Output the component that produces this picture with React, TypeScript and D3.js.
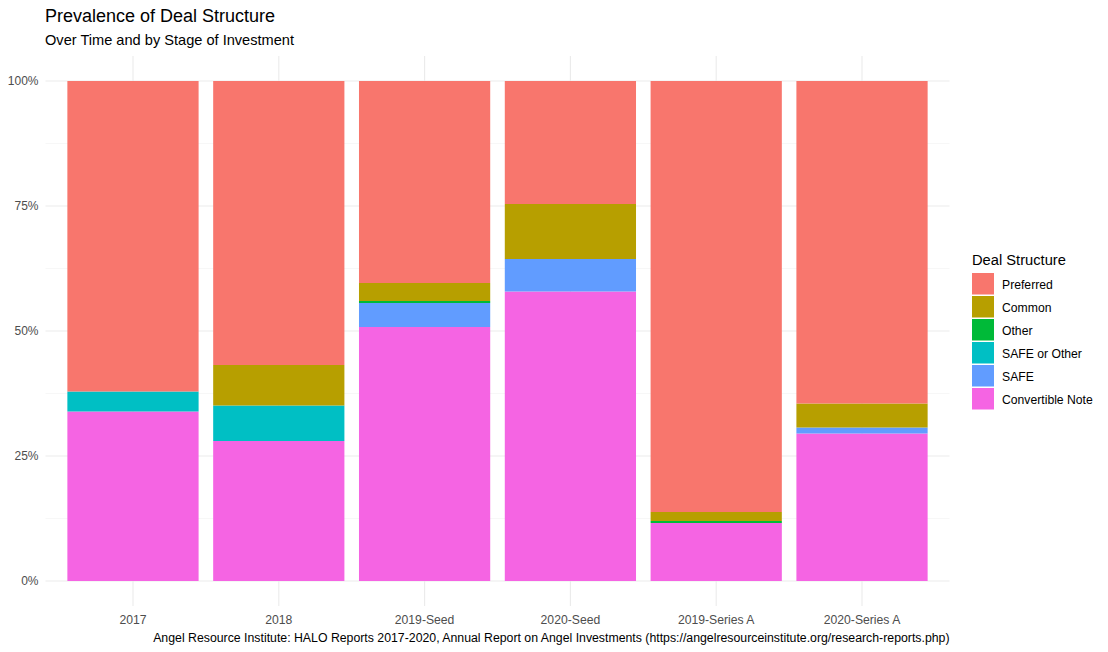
import { useEffect, useRef } from 'react';
import * as d3 from 'd3';

const categories = ['2017', '2018', '2019-Seed', '2020-Seed', '2019-Series A', '2020-Series A'];
// stacking order: bottom to top
const structures = ['Convertible Note', 'SAFE', 'SAFE or Other', 'Other', 'Common', 'Preferred'];
const legendOrder = ['Preferred', 'Common', 'Other', 'SAFE or Other', 'SAFE', 'Convertible Note'];
const colors = ['#F564E3', '#619CFF', '#00BFC4', '#00BA38', '#B79F00', '#F8766D'];

// percent share per category, same order as categories
const convertibleNote = [33.9, 28.0, 50.8, 57.9, 11.6, 29.5];
const safe = [0, 0, 4.8, 6.5, 0, 1.2];
const safeOrOther = [4.0, 7.1, 0, 0, 0, 0];
const other = [0, 0, 0.4, 0, 0.4, 0];
const common = [0, 8.1, 3.6, 11.0, 1.8, 4.8];
const preferred = [62.1, 56.8, 40.4, 24.6, 86.2, 64.5];

const yTicks = [0, 0.25, 0.5, 0.75, 1];
const yMinor = [0.125, 0.375, 0.625, 0.875];

const W = 1108;
const H = 652;
const FONT = '"Liberation Sans", Arial, sans-serif';

export default function App() {
  const svgRef = useRef<SVGSVGElement>(null);

  useEffect(() => {
    if (!svgRef.current) return;
    const svg = d3.select(svgRef.current);
    svg.selectAll('*').remove();

    const panel = { left: 45.5, right: 949.5, top: 56, bottom: 606 };

    // discrete expansion of 0.6 units on each side, like ggplot
    const step = (panel.right - panel.left) / (categories.length + 0.2);
    const x = d3
      .scaleBand()
      .domain(categories)
      .range([panel.left + 0.1 * step, panel.right - 0.1 * step])
      .paddingInner(0.1)
      .paddingOuter(0.05);

    const y = d3.scaleLinear().domain([-0.05, 1.05]).range([panel.bottom, panel.top]);

    const grid = svg.append('g');
    grid
      .selectAll('line.minor')
      .data(yMinor)
      .enter()
      .append('line')
      .attr('x1', panel.left)
      .attr('x2', panel.right)
      .attr('y1', (d) => y(d))
      .attr('y2', (d) => y(d))
      .style('stroke', '#F2F2F2')
      .style('stroke-width', 0.6);
    grid
      .selectAll('line.major')
      .data(yTicks)
      .enter()
      .append('line')
      .attr('x1', panel.left)
      .attr('x2', panel.right)
      .attr('y1', (d) => y(d))
      .attr('y2', (d) => y(d))
      .style('stroke', '#EBEBEB')
      .style('stroke-width', 1.1);
    grid
      .selectAll('line.vert')
      .data(categories)
      .enter()
      .append('line')
      .attr('x1', (d) => x(d)! + x.bandwidth() / 2)
      .attr('x2', (d) => x(d)! + x.bandwidth() / 2)
      .attr('y1', panel.top)
      .attr('y2', panel.bottom)
      .style('stroke', '#EBEBEB')
      .style('stroke-width', 1.1);

    // build table for stacking
    const seriesValues = [convertibleNote, safe, safeOrOther, other, common, preferred];
    const table = categories.map((c, i) => {
      const row: any = { category: c };
      structures.forEach((s, j) => (row[s] = seriesValues[j][i] / 100));
      return row;
    });
    const stacked = d3.stack().keys(structures)(table);
    const color = d3.scaleOrdinal<string, string>().domain(structures).range(colors);

    svg
      .append('g')
      .selectAll('g')
      .data(stacked)
      .enter()
      .append('g')
      .style('fill', (d) => color(d.key))
      .selectAll('rect')
      .data((d) => d)
      .enter()
      .append('rect')
      .attr('x', (d: any) => x(d.data.category)!)
      .attr('width', x.bandwidth())
      .attr('y', (d) => y(d[1]))
      .attr('height', (d) => Math.max(0, y(d[0]) - y(d[1])));

    // y axis labels
    svg
      .append('g')
      .selectAll('text')
      .data(yTicks)
      .enter()
      .append('text')
      .attr('x', 38.5)
      .attr('y', (d) => y(d))
      .attr('dy', '0.35em')
      .style('text-anchor', 'end')
      .style('font-family', FONT)
      .style('font-size', '12px')
      .style('fill', '#4D4D4D')
      .text((d) => d3.format('.0%')(d));

    // x axis labels
    svg
      .append('g')
      .selectAll('text')
      .data(categories)
      .enter()
      .append('text')
      .attr('x', (d) => x(d)! + x.bandwidth() / 2)
      .attr('y', 624)
      .style('text-anchor', 'middle')
      .style('font-family', FONT)
      .style('font-size', '12.2px')
      .style('fill', '#4D4D4D')
      .text((d) => d);

    // titles
    svg
      .append('text')
      .attr('x', 45)
      .attr('y', 22)
      .style('font-family', FONT)
      .style('font-size', '18px')
      .style('fill', '#000')
      .text('Prevalence of Deal Structure');
    svg
      .append('text')
      .attr('x', 45)
      .attr('y', 45)
      .style('font-family', FONT)
      .style('font-size', '14.6px')
      .style('fill', '#000')
      .text('Over Time and by Stage of Investment');
    svg
      .append('text')
      .attr('x', 949.5)
      .attr('y', 642)
      .style('text-anchor', 'end')
      .style('font-family', FONT)
      .style('font-size', '12.3px')
      .style('fill', '#000')
      .text(
        'Angel Resource Institute: HALO Reports 2017-2020, Annual Report on Angel Investments (https://angelresourceinstitute.org/research-reports.php)'
      );

    // legend
    const legend = svg.append('g').attr('transform', 'translate(972, 0)');
    legend
      .append('text')
      .attr('x', 0)
      .attr('y', 265)
      .style('font-family', FONT)
      .style('font-size', '14.7px')
      .style('fill', '#000')
      .text('Deal Structure');
    const items = legend
      .selectAll('g.item')
      .data(legendOrder)
      .enter()
      .append('g')
      .attr('transform', (d, i) => `translate(0, ${273 + i * 23})`);
    items
      .append('rect')
      .attr('width', 22)
      .attr('height', 21.5)
      .style('fill', (d) => color(d));
    items
      .append('text')
      .attr('x', 30)
      .attr('y', 12)
      .attr('dy', '0.35em')
      .style('font-family', FONT)
      .style('font-size', '12.2px')
      .style('fill', '#000')
      .text((d) => d);
  }, []);

  return <svg ref={svgRef} width={W} height={H} style={{ display: 'block', position: 'absolute', left: 0, top: 0, background: '#fff' }} />;
}
